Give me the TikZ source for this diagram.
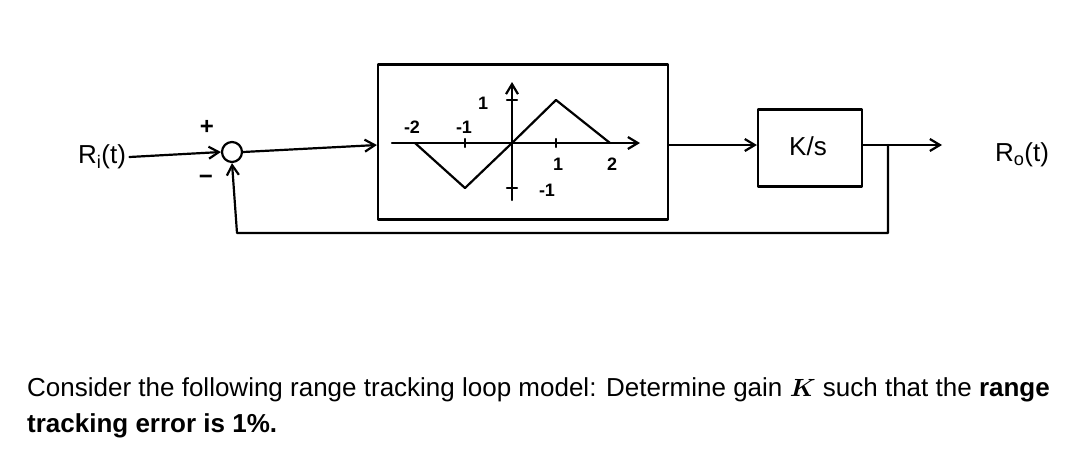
\documentclass[tikz,border=0pt]{standalone}
\usepackage{amsmath,bm}
\usepackage{fontspec}
\setmainfont{Liberation Sans}
\usetikzlibrary{arrows.meta}
\begin{document}
\begin{tikzpicture}[x=1pt,y=-1pt,
  ln/.style={line width=2.2pt,line cap=round,line join=round},
  arr/.style={ln,-{Straight Barb[length=10pt,width=12pt]}},
  hand/.style={font=\fontsize{26}{30}\selectfont},
  lab/.style={font=\fontsize{18}{20}\selectfont\bfseries}]
\useasboundingbox (0,0) rectangle (1089,475);
\node[hand] (ri) at (102,157) {R\textsubscript{i}(t)};
\node[ln,draw,circle,minimum size=20pt,inner sep=0pt] (sum) at (232,152) {};
\node[lab,font=\fontsize{24}{24}\selectfont\bfseries] (plus) at (207,127) {+};
\node[lab,font=\fontsize{24}{24}\selectfont\bfseries] (minus) at (206,180) {\textminus};
\draw[arr] (ri.east) -- (sum.west);
\node[ln,draw,minimum width=290pt,minimum height=155pt] (nl) at (523,142) {};
\draw[arr] (sum.east) -- (nl.west |- 0,145);
\coordinate (xa) at (392,143); \coordinate (xb) at (640,143);
\coordinate (ya) at (512,200); \coordinate (yb) at (512,82);
\draw[arr] (xa) -- (xb);
\draw[arr] (ya) -- (yb);
\draw[ln] (415,143) -- (465,188) -- (512,143) -- (556,100) -- (610,143);
\draw[ln] (465,139) -- (465,147) (556,139) -- (556,147) (507,100) -- (517,100) (507,188) -- (517,188);
\node[lab] (l1) at (412,127) {\mbox{-}2};
\node[lab] (l2) at (464,127) {\mbox{-}1};
\node[lab] (l3) at (483,103) {1};
\node[lab] (l4) at (547,190) {\mbox{-}1};
\node[lab] (l5) at (558,164) {1};
\node[lab] (l6) at (612,164) {2};
\node[ln,draw,minimum width=104pt,minimum height=77pt] (ks) at (810,148) {};
\node[hand] (kst) at (808,146) {K/s};
\draw[arr] (nl.east |- 0,145) -- (ks.west |- 0,145);
\coordinate (tap) at (888,145);
\coordinate (out) at (942,145);
\draw[arr] (ks.east |- 0,145) -- (out);
\node[hand] (ro) at (1022,155) {R\textsubscript{o}(t)};
\coordinate (c1) at (888,233);
\coordinate (c2) at (237,233);
\draw[arr] (tap) -- (c1) -- (c2) -- (sum.south);
\node[anchor=west,font=\fontsize{26}{30}\selectfont,inner sep=0pt] (t1) at (27,390) {Consider the following range tracking loop model: Determine gain {\fontsize{32}{32}\selectfont$\bm{K}$} such that the \textbf{range}};
\node[anchor=west,font=\fontsize{26}{30}\selectfont\bfseries,inner sep=0pt] (t2) at (27,426) {tracking error is 1\%.};
\end{tikzpicture}
\end{document}
